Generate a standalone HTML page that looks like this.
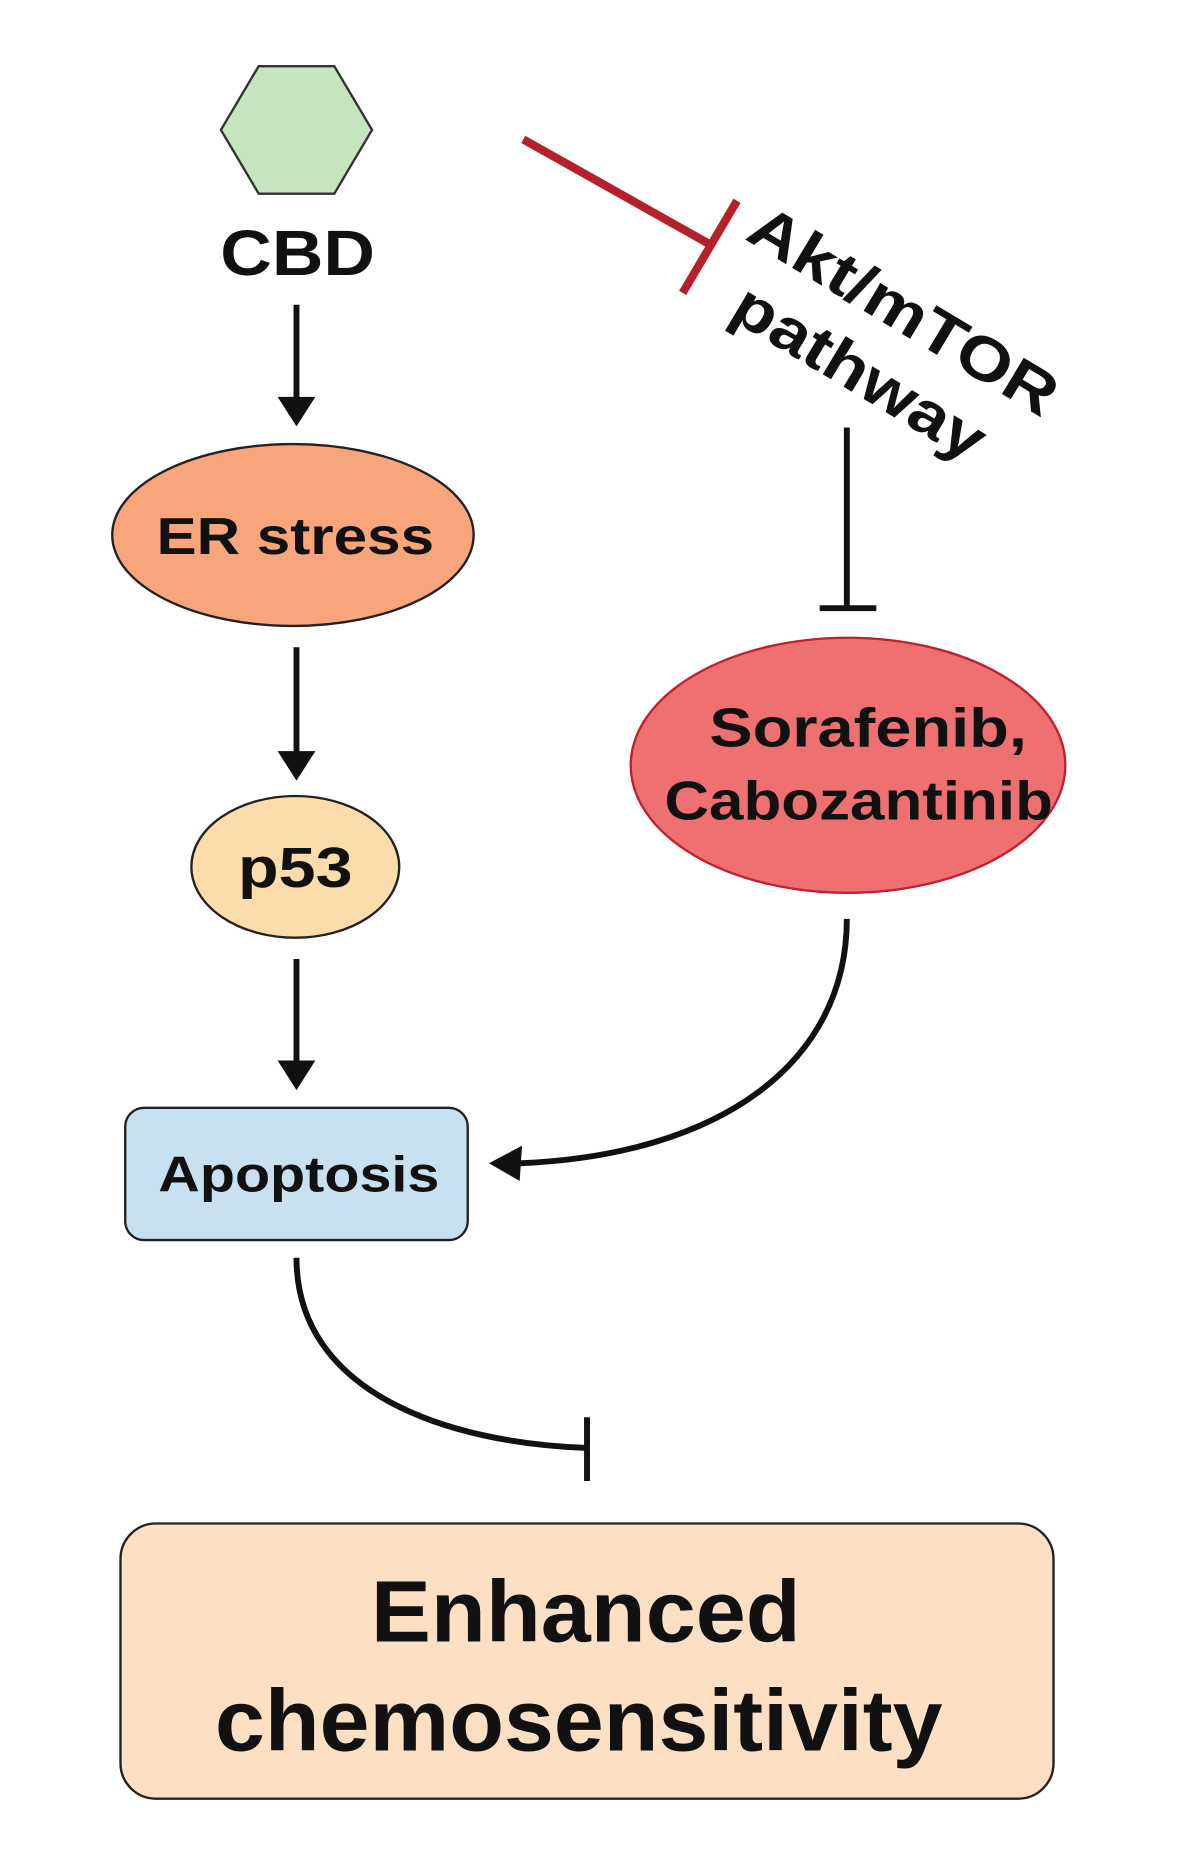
<!DOCTYPE html>
<html><head><meta charset="utf-8"><style>
html,body{margin:0;padding:0;background:#fff;}
svg{display:block;}
text{font-family:"Liberation Sans",Arial,sans-serif;font-weight:bold;fill:#111;}
</style></head><body>
<svg width="1200" height="1853" viewBox="0 0 1016 1569" xmlns="http://www.w3.org/2000/svg">
<!-- hexagon -->
<polygon points="219,56 283,56 315,110 283,164 219,164 187,110" fill="#c5e5bf" stroke="#333" stroke-width="2"/>
<text x="252" y="233" font-size="54" text-anchor="middle" textLength="131" lengthAdjust="spacingAndGlyphs">CBD</text>
<!-- arrow 1 -->
<line x1="251" y1="258" x2="251" y2="340" stroke="#111" stroke-width="5"/>
<polygon points="235,336 267,336 251,361" fill="#111"/>
<!-- ER stress -->
<ellipse cx="248" cy="453" rx="153" ry="77" fill="#f9a57c" stroke="#222" stroke-width="2"/>
<text x="250" y="469" font-size="44" text-anchor="middle" textLength="235" lengthAdjust="spacingAndGlyphs">ER stress</text>
<!-- arrow 2 -->
<line x1="251" y1="548" x2="251" y2="640" stroke="#111" stroke-width="5"/>
<polygon points="235,636 267,636 251,661" fill="#111"/>
<!-- p53 -->
<ellipse cx="250" cy="734" rx="88" ry="60" fill="#fbdcaa" stroke="#222" stroke-width="2"/>
<text x="250" y="751" font-size="48" text-anchor="middle" textLength="97" lengthAdjust="spacingAndGlyphs">p53</text>
<!-- arrow 3 -->
<line x1="251" y1="812" x2="251" y2="902" stroke="#111" stroke-width="5"/>
<polygon points="235,898 267,898 251,923" fill="#111"/>
<!-- Apoptosis -->
<rect x="106" y="938" width="290" height="112" rx="16" fill="#c8e1f0" stroke="#222" stroke-width="2"/>
<text x="253" y="1009" font-size="42" text-anchor="middle" textLength="238" lengthAdjust="spacingAndGlyphs">Apoptosis</text>
<!-- red inhibitor -->
<line x1="443" y1="118" x2="603" y2="208" stroke="#b5202a" stroke-width="7"/>
<line x1="578" y1="248" x2="624" y2="170" stroke="#b5202a" stroke-width="7"/>
<!-- Akt/mTOR text -->
<g transform="translate(756,278) rotate(31)">
<text x="0" y="0" font-size="52" text-anchor="middle" textLength="295" lengthAdjust="spacingAndGlyphs">Akt/mTOR</text>
<text x="-5" y="64" font-size="52" text-anchor="middle" textLength="240" lengthAdjust="spacingAndGlyphs">pathway</text>
</g>
<!-- inhibitor down -->
<line x1="717" y1="362" x2="717" y2="515" stroke="#111" stroke-width="5"/>
<line x1="694" y1="515" x2="742" y2="515" stroke="#111" stroke-width="5"/>
<!-- Sorafenib -->
<ellipse cx="718" cy="648" rx="184" ry="108" fill="#ee7070" stroke="#c02030" stroke-width="2"/>
<text x="735" y="632" font-size="46" text-anchor="middle" textLength="269" lengthAdjust="spacingAndGlyphs">Sorafenib,</text>
<text x="727" y="694" font-size="46" text-anchor="middle" textLength="329" lengthAdjust="spacingAndGlyphs">Cabozantinib</text>
<!-- curve to apoptosis -->
<path d="M717,778 C717,900 610,978 440,985" fill="none" stroke="#111" stroke-width="5"/>
<polygon points="414,985 442,970 440,1000" fill="#111"/>
<!-- curve to enhanced -->
<path d="M251,1065 C251,1180 380,1222 497,1226" fill="none" stroke="#111" stroke-width="5"/>
<line x1="497" y1="1200" x2="497" y2="1254" stroke="#111" stroke-width="5"/>
<!-- Enhanced box -->
<rect x="102" y="1290" width="790" height="233" rx="30" fill="#fde0c4" stroke="#222" stroke-width="2"/>
<text x="496" y="1390" font-size="74" text-anchor="middle" textLength="364" lengthAdjust="spacingAndGlyphs">Enhanced</text>
<text x="490" y="1482" font-size="74" text-anchor="middle" textLength="616" lengthAdjust="spacingAndGlyphs">chemosensitivity</text>
</svg>
</body></html>
